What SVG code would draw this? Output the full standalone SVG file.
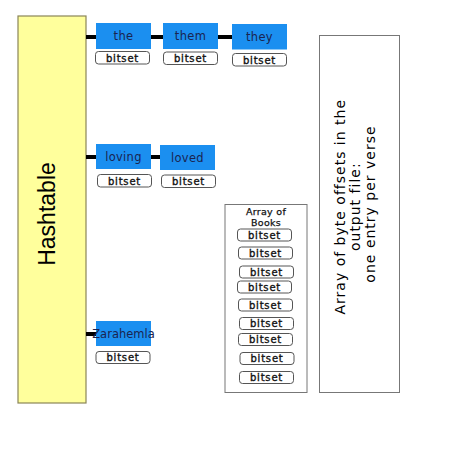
<svg xmlns="http://www.w3.org/2000/svg" width="474" height="474" viewBox="0 0 474 474">
<style>
.word{fill:#1b8ff0}
.wt{font-family:"DejaVu Sans",Verdana,sans-serif;font-size:11.5px;fill:#1a2450;text-anchor:middle;letter-spacing:0.3px}
.bs{fill:#fff;stroke:#555;stroke-width:1}
.bt{font-family:"DejaVu Sans",Verdana,sans-serif;font-size:10px;fill:#111;stroke:#111;stroke-width:0.35;text-anchor:middle;letter-spacing:0.8px}
.pt{font-family:"DejaVu Sans",Verdana,sans-serif;font-size:9.5px;fill:#111;stroke:#111;stroke-width:0.25;text-anchor:middle;letter-spacing:0.3px}
.conn{stroke:#000;stroke-width:4}
.panel{fill:#fff;stroke:#777;stroke-width:1}
</style>
<rect width="474" height="474" fill="#fff"/>
<g id="hashtable">
<rect x="18" y="16" width="68" height="387" fill="#ffff9c" stroke="#8a8558" stroke-width="1.2"/>
<text transform="translate(55,214) rotate(-90)" text-anchor="middle" font-family="Liberation Sans,Arial,sans-serif" font-size="23" fill="#000">Hashtable</text>
</g>
<g id="connectors">
<line class="conn" x1="86" y1="37" x2="96" y2="37"/>
<line class="conn" x1="151" y1="37" x2="163" y2="37"/>
<line class="conn" x1="218" y1="37" x2="232" y2="37"/>
<line class="conn" x1="86" y1="157" x2="96" y2="157"/>
<line class="conn" x1="151" y1="157" x2="160" y2="157"/>
<line class="conn" x1="86" y1="334" x2="96" y2="334"/>
</g>
<g id="the">
<rect class="word" x="96" y="23" width="55" height="26"/>
<text class="wt" x="123.5" y="40">the</text>
<rect class="bs" x="95.5" y="51.5" width="54" height="12.5" rx="3"/>
<text class="bt" x="122.5" y="61.5">bitset</text>
</g>
<g id="them">
<rect class="word" x="163" y="23" width="55" height="26"/>
<text class="wt" x="190.5" y="40">them</text>
<rect class="bs" x="163.5" y="52" width="54" height="12.5" rx="3"/>
<text class="bt" x="190.5" y="62">bitset</text>
</g>
<g id="they">
<rect class="word" x="232" y="24" width="55" height="25.5"/>
<text class="wt" x="259.5" y="41">they</text>
<rect class="bs" x="232.5" y="53.5" width="54" height="12.5" rx="3"/>
<text class="bt" x="259.5" y="63.5">bitset</text>
</g>
<g id="loving">
<rect class="word" x="96" y="144" width="55" height="25"/>
<text class="wt" x="123.5" y="161">loving</text>
<rect class="bs" x="97.5" y="174.5" width="54" height="12.5" rx="3"/>
<text class="bt" x="124.5" y="184.5">bitset</text>
</g>
<g id="loved">
<rect class="word" x="160" y="145" width="55" height="25"/>
<text class="wt" x="187.5" y="162">loved</text>
<rect class="bs" x="161.5" y="175" width="54" height="12.5" rx="3"/>
<text class="bt" x="188.5" y="185">bitset</text>
</g>
<g id="zarahemla">
<rect class="word" x="96" y="321" width="55" height="25"/>
<text class="wt" x="123.5" y="338" style="letter-spacing:0">Zarahemla</text>
<rect class="bs" x="96" y="351.5" width="54" height="12" rx="3"/>
<text class="bt" x="123" y="361">bitset</text>
</g>
<g id="books">
<rect class="panel" x="225" y="204.5" width="82" height="188"/>
<text class="pt" x="266" y="215">Array of</text>
<text class="pt" x="266" y="226">Books</text>
<rect class="bs" x="237.5" y="229" width="54" height="12" rx="3"/><text class="bt" x="264.5" y="238.5">bitset</text>
<rect class="bs" x="238.5" y="247" width="54" height="12" rx="3"/><text class="bt" x="265.5" y="256.5">bitset</text>
<rect class="bs" x="239.5" y="266" width="54" height="12" rx="3"/><text class="bt" x="266.5" y="275.5">bitset</text>
<rect class="bs" x="237.5" y="281" width="54" height="12" rx="3"/><text class="bt" x="264.5" y="290.5">bitset</text>
<rect class="bs" x="238.5" y="299" width="54" height="12" rx="3"/><text class="bt" x="265.5" y="308.5">bitset</text>
<rect class="bs" x="239.5" y="317.5" width="54" height="12" rx="3"/><text class="bt" x="266.5" y="327">bitset</text>
<rect class="bs" x="238.5" y="333.5" width="54" height="12" rx="3"/><text class="bt" x="265.5" y="343">bitset</text>
<rect class="bs" x="240" y="352.5" width="54" height="12" rx="3"/><text class="bt" x="267" y="362">bitset</text>
<rect class="bs" x="239.5" y="371.5" width="54" height="12" rx="3"/><text class="bt" x="266.5" y="381">bitset</text>
</g>
<g id="offsets">
<rect class="panel" x="319.5" y="35.5" width="80" height="357"/>
<text transform="translate(359,204) rotate(-90)" text-anchor="middle" font-family="DejaVu Sans,Verdana,sans-serif" font-size="14" fill="#000" letter-spacing="1">
<tspan x="0" y="-14">Array of byte offsets in the</tspan>
<tspan x="0" y="1">output file:</tspan>
<tspan x="0" y="16">one entry per verse</tspan>
</text>
</g>
</svg>
